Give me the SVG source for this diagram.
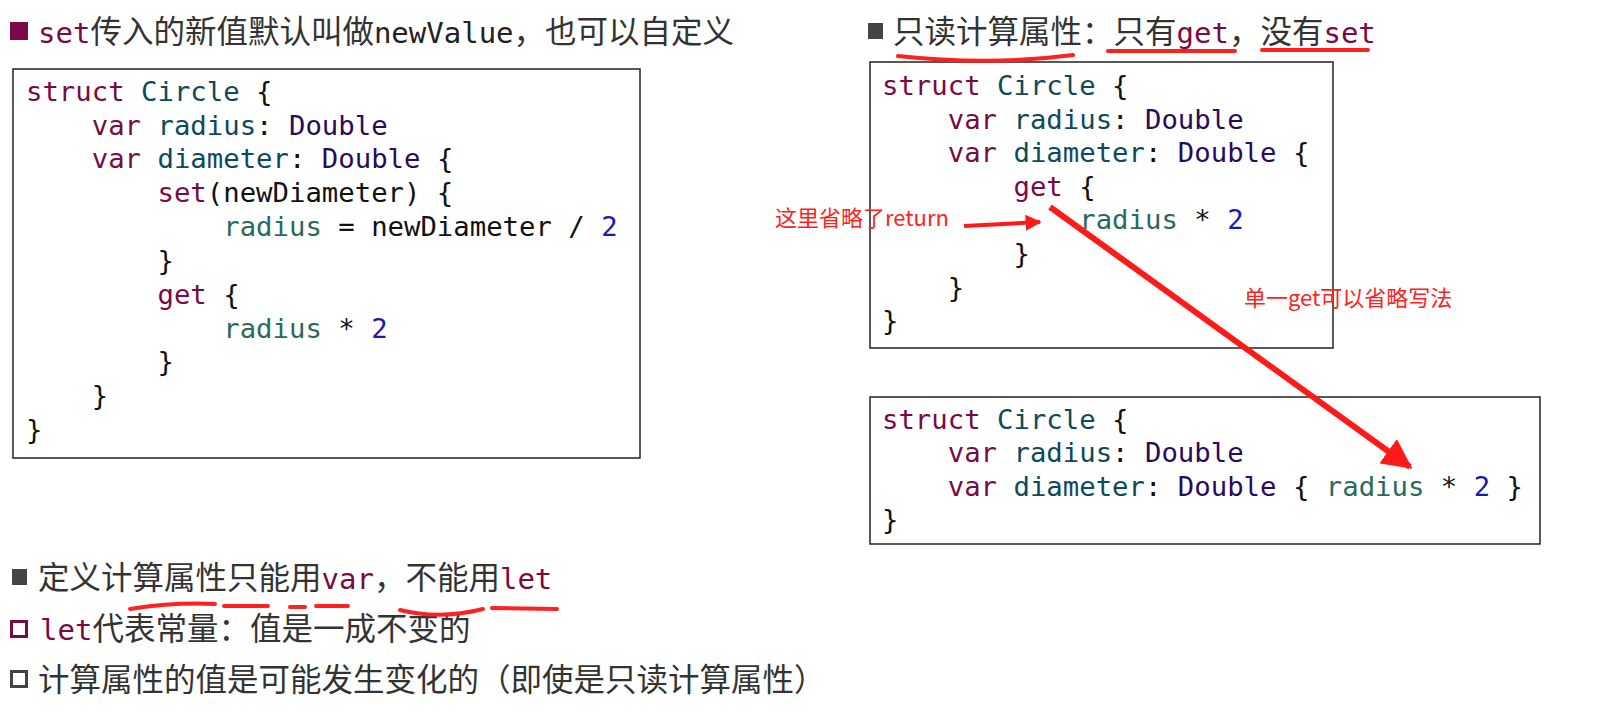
<svg xmlns="http://www.w3.org/2000/svg" width="1600" height="725" viewBox="0 0 1600 725">
<defs>
<marker id="ah" viewBox="0 0 10 10" refX="9" refY="5" markerWidth="4" markerHeight="4" orient="auto" markerUnits="strokeWidth"><path d="M0,0 L10,5 L0,10 z" fill="#ff1a1a"/></marker>
<marker id="ah2" viewBox="0 0 10 10" refX="9" refY="5" markerWidth="5" markerHeight="5" orient="auto" markerUnits="strokeWidth"><path d="M0,0 L10,5 L0,10 z" fill="#ff1a1a"/></marker>
</defs>
<style>
.h{font-family:"Noto Sans CJK SC","Liberation Sans",sans-serif;font-size:31.5px;fill:#333}
.m{font-family:"DejaVu Sans Mono",monospace;font-size:29px}
.code{font-family:"DejaVu Sans Mono",monospace;font-size:27.3px;fill:#111;white-space:pre}
.k{fill:#7a0a45}.id{fill:#0e4a5a}.t{fill:#2a0a5c}.r{fill:#2a6a5c}.n{fill:#1a1ab0}
.box{fill:#fff;stroke:#222;stroke-width:1.5}
.ul{fill:none;stroke:#ff2020;stroke-width:4;stroke-linecap:round}
.red{font-family:"Noto Sans CJK SC","Liberation Sans",sans-serif;font-size:22px;fill:#ff2020}
</style>
<rect width="1600" height="725" fill="#fff"/>
<g id="heading1">
<rect x="10" y="22" width="18" height="18" fill="#7a0a45"/>
<text class="h" x="38" y="43"><tspan class="m k">set</tspan>传入的新值默认叫做<tspan class="m" fill="#222">newValue</tspan>，也可以自定义</text>
</g>
<g id="code1">
<rect class="box" x="13" y="69" width="627" height="389"/>
<text class="code" x="26" y="101"><tspan class="k">struct</tspan> <tspan class="id">Circle</tspan> {</text>
<text class="code" x="26" y="135">    <tspan class="k">var</tspan> <tspan class="id">radius</tspan>: <tspan class="t">Double</tspan></text>
<text class="code" x="26" y="168">    <tspan class="k">var</tspan> <tspan class="id">diameter</tspan>: <tspan class="t">Double</tspan> {</text>
<text class="code" x="26" y="202">        <tspan class="k">set</tspan>(newDiameter) {</text>
<text class="code" x="26" y="236">            <tspan class="r">radius</tspan> = newDiameter / <tspan class="n">2</tspan></text>
<text class="code" x="26" y="270">        }</text>
<text class="code" x="26" y="304">        <tspan class="k">get</tspan> {</text>
<text class="code" x="26" y="338">            <tspan class="r">radius</tspan> * <tspan class="n">2</tspan></text>
<text class="code" x="26" y="371">        }</text>
<text class="code" x="26" y="405">    }</text>
<text class="code" x="26" y="439">}</text>
</g>
<g id="heading2">
<rect x="868" y="23" width="15" height="16" fill="#444"/>
<text class="h" x="893" y="43">只读计算属性：只有<tspan class="m k">get</tspan>，没有<tspan class="m k">set</tspan></text>
</g>
<g id="code2">
<rect class="box" x="870" y="62" width="463" height="286"/>
<text class="code" x="882" y="95"><tspan class="k">struct</tspan> <tspan class="id">Circle</tspan> {</text>
<text class="code" x="882" y="129">    <tspan class="k">var</tspan> <tspan class="id">radius</tspan>: <tspan class="t">Double</tspan></text>
<text class="code" x="882" y="162">    <tspan class="k">var</tspan> <tspan class="id">diameter</tspan>: <tspan class="t">Double</tspan> {</text>
<text class="code" x="882" y="196">        <tspan class="k">get</tspan> {</text>
<text class="code" x="882" y="229">            <tspan class="r">radius</tspan> * <tspan class="n">2</tspan></text>
<text class="code" x="882" y="263">        }</text>
<text class="code" x="882" y="297">    }</text>
<text class="code" x="882" y="330">}</text>
</g>
<g id="code3">
<rect class="box" x="870" y="397" width="670" height="147"/>
<text class="code" x="882" y="429"><tspan class="k">struct</tspan> <tspan class="id">Circle</tspan> {</text>
<text class="code" x="882" y="462">    <tspan class="k">var</tspan> <tspan class="id">radius</tspan>: <tspan class="t">Double</tspan></text>
<text class="code" x="882" y="496">    <tspan class="k">var</tspan> <tspan class="id">diameter</tspan>: <tspan class="t">Double</tspan> { <tspan class="r">radius</tspan> * <tspan class="n">2</tspan> }</text>
<text class="code" x="882" y="529">}</text>
</g>
<g id="notes">
<rect x="12" y="569" width="15" height="16" fill="#444"/>
<text class="h" x="38" y="589">定义计算属性只能用<tspan class="m k">var</tspan>，不能用<tspan class="m k">let</tspan></text>
<rect x="11.5" y="621.5" width="15" height="15" fill="none" stroke="#7a0a45" stroke-width="3"/>
<text class="h" x="40" y="640"><tspan class="m k">let</tspan>代表常量：值是一成不变的</text>
<rect x="11.5" y="671.5" width="15" height="15" fill="none" stroke="#444" stroke-width="3"/>
<text class="h" x="38" y="691">计算属性的值是可能发生变化的（即使是只读计算属性）</text>
</g>
<g id="connectors">
<path class="ul" d="M898,56 Q990,66 1073,55"/>
<path class="ul" d="M1108,51 L1235,51"/>
<path class="ul" d="M1262,50 L1368,50"/>
<path class="ul" d="M130,609 Q175,602 215,604"/>
<path class="ul" d="M224,606 L268,606"/>
<path class="ul" d="M290,607 L305,607"/>
<path class="ul" d="M316,606 L348,606"/>
<path class="ul" d="M400,610 Q440,620 483,609"/>
<path class="ul" d="M492,608 L557,609"/>
<text class="red" x="775" y="226">这里省略了return</text>
<line x1="964" y1="226" x2="1040" y2="222" stroke="#ff1a1a" stroke-width="4" marker-end="url(#ah)"/>
<line x1="1050" y1="207" x2="1410" y2="467" stroke="#ff1a1a" stroke-width="6" marker-end="url(#ah2)"/>
<text class="red" x="1244" y="306">单一get可以省略写法</text>
</g>
</svg>
